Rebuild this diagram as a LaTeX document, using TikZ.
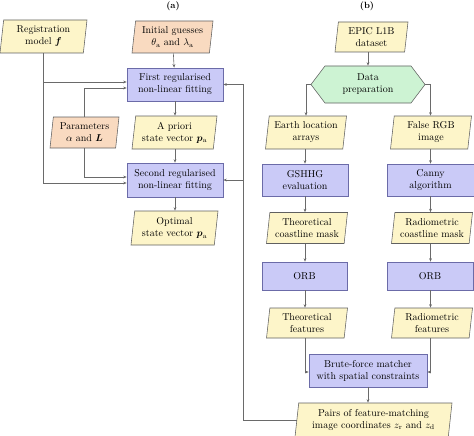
\documentclass[tikz,border=0pt]{standalone}
\usepackage{amsmath,bm}
\usetikzlibrary{shapes.geometric,shapes.symbols,arrows.meta,calc}
\definecolor{yfill}{HTML}{FDF5C9}
\definecolor{ofill}{HTML}{F9DAC0}
\definecolor{bfill}{HTML}{CACAF7}
\definecolor{bdraw}{HTML}{6B6BA8}
\definecolor{gfill}{HTML}{CDF3D3}
\definecolor{edge}{HTML}{606060}
\definecolor{conn}{HTML}{6A6A6A}
\tikzset{
  base/.style={align=center, inner sep=0pt, font=\fontsize{10}{12}\selectfont, line width=0.55pt},
  para/.style={base, trapezium, trapezium left angle=80, trapezium right angle=100,
    trapezium stretches body, draw=edge, fill=yfill},
  opara/.style={para, fill=ofill},
  proc/.style={base, rectangle, draw=bdraw, fill=bfill},
  hexa/.style={base, signal, signal to=west and east, signal pointer angle=106, draw=edge, fill=gfill},
  arr/.style={draw=conn, line width=0.6pt, -{Stealth[length=3.5pt,width=2.8pt]}},
  lab/.style={font=\bfseries\small}
}
\begin{document}
\begin{tikzpicture}[x=1pt,y=-1pt]
\useasboundingbox (0,0) rectangle (474,436);
% (a)
\node[lab] (la) at (173,6) {(a)};
\node[para, minimum width=87, minimum height=33] (reg) at (43.5,36.5) {Registration\\model $\bm{f}$};
\node[opara, minimum width=81, minimum height=32] (init) at (172.5,37) {Initial guesses\\$\theta_\mathrm{a}$ and $\lambda_\mathrm{a}$};
\node[proc, minimum width=96, minimum height=33] (fit1) at (175,84.5) {First regularised\\non-linear fitting};
\node[para, minimum width=85, minimum height=33] (apri) at (174.5,132.5) {A priori\\state vector $\bm{p}_\mathrm{a}$};
\node[opara, minimum width=69, minimum height=31] (par) at (84.5,132.5) {Parameters\\$\alpha$ and $\bm{L}$};
\node[proc, minimum width=96, minimum height=34] (fit2) at (175,180) {Second regularised\\non-linear fitting};
\node[para, minimum width=87, minimum height=34] (opt) at (174.5,228) {Optimal\\state vector $\bm{p}_\mathrm{a}$};
% (b)
\node[lab] (lb) at (367,6) {(b)};
\node[para, minimum width=73, minimum height=30] (epic) at (371.5,37) {EPIC L1B\\dataset};
\node[hexa, minimum width=114, minimum height=37] (prep) at (368,84.5) {Data\\preparation};
\node[para, minimum width=81, minimum height=33] (earth) at (306,132.5) {Earth location\\arrays};
\node[para, minimum width=81, minimum height=33] (rgb) at (431,132.5) {False RGB\\image};
\node[proc, minimum width=86, minimum height=32] (gsh) at (305,180) {GSHHG\\evaluation};
\node[proc, minimum width=87, minimum height=32] (can) at (430.5,180) {Canny\\algorithm};
\node[para, minimum width=81, minimum height=31] (tmask) at (307,228) {Theoretical\\coastline mask};
\node[para, minimum width=81, minimum height=31] (rmask) at (432,228) {Radiometric\\coastline mask};
\node[proc, minimum width=85, minimum height=28] (orb1) at (304.5,276) {ORB};
\node[proc, minimum width=86, minimum height=28] (orb2) at (430,276) {ORB};
\node[para, minimum width=81, minimum height=30] (tfeat) at (307,323) {Theoretical\\features};
\node[para, minimum width=81, minimum height=30] (rfeat) at (432,323) {Radiometric\\features};
\node[proc, minimum width=118, minimum height=33] (bf) at (368,370.5) {Brute-force matcher\\with spatial constraints};
\node[para, minimum width=157, minimum height=34] (pairs) at (373.5,420) {Pairs of feature-matching\\image coordinates $z_\mathrm{r}$ and $z_\mathrm{d}$};
% connectors (a)
\draw[arr] (init) -- (fit1);
\draw[arr] (fit1) -- (fit1 |- apri.north);
\draw[arr] (apri.south -| fit1) -- (fit2);
\draw[arr] (fit2) -- (fit2 |- opt.north);
\draw[arr] (reg.south) |- ($(fit1.west)+(0,-2.5)$);
\draw[arr] (reg.south) |- ($(fit2.west)+(0,3)$);
\draw[arr] (par.north) |- ($(fit1.west)+(0,3.5)$);
\draw[arr] (par.south) |- ($(fit2.west)+(0,-3)$);
\coordinate (fb) at (243,0);
\draw[arr] (pairs.west) -| (fb |- fit1.east) -- (fit1.east);
\draw[arr] (fb |- fit2.east) -- (fit2.east);
% connectors (b)
\draw[arr] (epic.south -| prep.north) -- (prep.north);
\draw[arr] (prep.west) -| (earth.north);
\draw[arr] (prep.east) -| (rgb.north -| can.north);
\draw[arr] (earth.south -| gsh.north) -- (gsh.north);
\draw[arr] (gsh.south) -- (tmask.north -| gsh.south);
\draw[arr] (tmask.south -| gsh.south) -- (orb1.north -| gsh.south);
\draw[arr] (orb1.south -| gsh.south) -- (tfeat.north -| gsh.south);
\draw[arr] (tfeat.south -| gsh.south) |- ($(bf.west)+(0,1.5)$);
\draw[arr] (rgb.south -| can.north) -- (can.north);
\draw[arr] (can.south) -- (rmask.north -| can.south);
\draw[arr] (rmask.south -| can.south) -- (orb2.north -| can.south);
\draw[arr] (orb2.south -| can.south) -- (rfeat.north -| can.south);
\draw[arr] (rfeat.south -| can.south) |- ($(bf.east)+(0,1.5)$);
\draw[arr] (bf.south) -- (bf.south |- pairs.north);
\end{tikzpicture}
\end{document}
